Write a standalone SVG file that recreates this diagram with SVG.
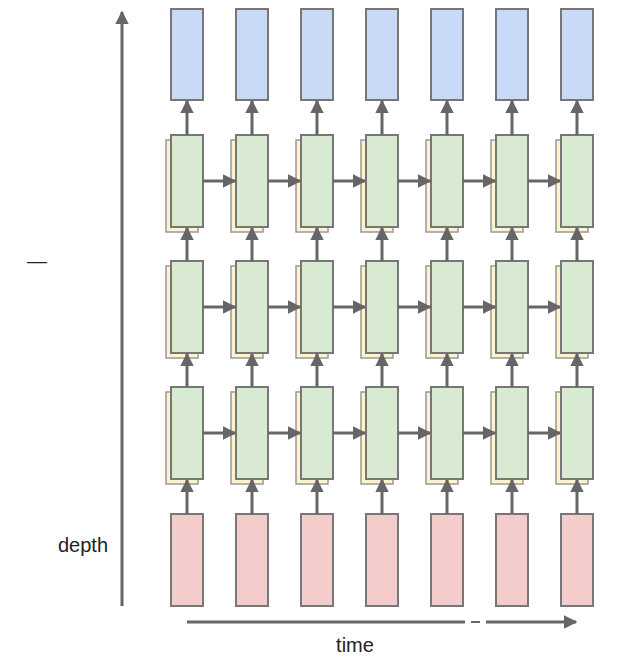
<svg xmlns="http://www.w3.org/2000/svg" width="622" height="665" viewBox="0 0 622 665">
<style>
.b{fill:#c9daf8;stroke:#777;stroke-width:2}
.r{fill:#f4cccc;stroke:#777;stroke-width:2}
.g{fill:#d9ead3;stroke:#777;stroke-width:2}
.y{fill:#fff2cc;stroke:#999;stroke-width:1.5}
.c line{stroke:#666;stroke-width:3}
text{font-family:"Liberation Sans",Arial,sans-serif;font-size:20px;fill:#222}
</style>
<defs>
<marker id="a" viewBox="0 0 10 10" refX="9" refY="5" markerWidth="4.5" markerHeight="4.5" orient="auto" markerUnits="strokeWidth"><path d="M0,0L10,5L0,10z" fill="#666"/></marker>
<g id="cell"><rect class="y" x="-5" y="5" width="32" height="92"/><rect class="g" x="0" y="0" width="32" height="92"/></g>
</defs>
<rect width="622" height="665" fill="#fff"/>
<g id="axes">
<line x1="122" y1="606" x2="122" y2="12" stroke="#666" stroke-width="3" marker-end="url(#a)"/>
<line x1="187" y1="622" x2="465" y2="622" stroke="#666" stroke-width="3"/>
<line x1="471" y1="622" x2="480" y2="622" stroke="#666" stroke-width="2"/>
<line x1="486" y1="622" x2="576" y2="622" stroke="#666" stroke-width="3" marker-end="url(#a)"/>
<text x="83" y="552" text-anchor="middle">depth</text>
<text x="355" y="652" text-anchor="middle">time</text>
<text x="37" y="268" text-anchor="middle">—</text>
</g>
<g id="nodes">
<g id="outputs">
<rect class="b" x="171" y="9" width="32" height="91"/><rect class="b" x="236" y="9" width="32" height="91"/><rect class="b" x="301" y="9" width="32" height="91"/><rect class="b" x="366" y="9" width="32" height="91"/><rect class="b" x="431" y="9" width="32" height="91"/><rect class="b" x="496" y="9" width="32" height="91"/><rect class="b" x="561" y="9" width="32" height="91"/>
</g>
<g id="inputs">
<rect class="r" x="171" y="514" width="32" height="92"/><rect class="r" x="236" y="514" width="32" height="92"/><rect class="r" x="301" y="514" width="32" height="92"/><rect class="r" x="366" y="514" width="32" height="92"/><rect class="r" x="431" y="514" width="32" height="92"/><rect class="r" x="496" y="514" width="32" height="92"/><rect class="r" x="561" y="514" width="32" height="92"/>
</g>
<g id="layer1"><use href="#cell" x="171" y="135"/><use href="#cell" x="236" y="135"/><use href="#cell" x="301" y="135"/><use href="#cell" x="366" y="135"/><use href="#cell" x="431" y="135"/><use href="#cell" x="496" y="135"/><use href="#cell" x="561" y="135"/></g>
<g id="layer2"><use href="#cell" x="171" y="261"/><use href="#cell" x="236" y="261"/><use href="#cell" x="301" y="261"/><use href="#cell" x="366" y="261"/><use href="#cell" x="431" y="261"/><use href="#cell" x="496" y="261"/><use href="#cell" x="561" y="261"/></g>
<g id="layer3"><use href="#cell" x="171" y="387"/><use href="#cell" x="236" y="387"/><use href="#cell" x="301" y="387"/><use href="#cell" x="366" y="387"/><use href="#cell" x="431" y="387"/><use href="#cell" x="496" y="387"/><use href="#cell" x="561" y="387"/></g>
</g>
<g id="connectors" class="c">
<g id="v0"><line x1="187" y1="135" x2="187" y2="101" marker-end="url(#a)"/><line x1="252" y1="135" x2="252" y2="101" marker-end="url(#a)"/><line x1="317" y1="135" x2="317" y2="101" marker-end="url(#a)"/><line x1="382" y1="135" x2="382" y2="101" marker-end="url(#a)"/><line x1="447" y1="135" x2="447" y2="101" marker-end="url(#a)"/><line x1="512" y1="135" x2="512" y2="101" marker-end="url(#a)"/><line x1="577" y1="135" x2="577" y2="101" marker-end="url(#a)"/></g>
<g id="v1"><line x1="187" y1="261" x2="187" y2="228" marker-end="url(#a)"/><line x1="252" y1="261" x2="252" y2="228" marker-end="url(#a)"/><line x1="317" y1="261" x2="317" y2="228" marker-end="url(#a)"/><line x1="382" y1="261" x2="382" y2="228" marker-end="url(#a)"/><line x1="447" y1="261" x2="447" y2="228" marker-end="url(#a)"/><line x1="512" y1="261" x2="512" y2="228" marker-end="url(#a)"/><line x1="577" y1="261" x2="577" y2="228" marker-end="url(#a)"/></g>
<g id="v2"><line x1="187" y1="387" x2="187" y2="354" marker-end="url(#a)"/><line x1="252" y1="387" x2="252" y2="354" marker-end="url(#a)"/><line x1="317" y1="387" x2="317" y2="354" marker-end="url(#a)"/><line x1="382" y1="387" x2="382" y2="354" marker-end="url(#a)"/><line x1="447" y1="387" x2="447" y2="354" marker-end="url(#a)"/><line x1="512" y1="387" x2="512" y2="354" marker-end="url(#a)"/><line x1="577" y1="387" x2="577" y2="354" marker-end="url(#a)"/></g>
<g id="v3"><line x1="187" y1="514" x2="187" y2="480" marker-end="url(#a)"/><line x1="252" y1="514" x2="252" y2="480" marker-end="url(#a)"/><line x1="317" y1="514" x2="317" y2="480" marker-end="url(#a)"/><line x1="382" y1="514" x2="382" y2="480" marker-end="url(#a)"/><line x1="447" y1="514" x2="447" y2="480" marker-end="url(#a)"/><line x1="512" y1="514" x2="512" y2="480" marker-end="url(#a)"/><line x1="577" y1="514" x2="577" y2="480" marker-end="url(#a)"/></g>
<g id="h1"><line x1="203" y1="181" x2="235" y2="181" marker-end="url(#a)"/><line x1="268" y1="181" x2="300" y2="181" marker-end="url(#a)"/><line x1="333" y1="181" x2="365" y2="181" marker-end="url(#a)"/><line x1="398" y1="181" x2="430" y2="181" marker-end="url(#a)"/><line x1="463" y1="181" x2="495" y2="181" marker-end="url(#a)"/><line x1="528" y1="181" x2="560" y2="181" marker-end="url(#a)"/></g>
<g id="h2"><line x1="203" y1="307" x2="235" y2="307" marker-end="url(#a)"/><line x1="268" y1="307" x2="300" y2="307" marker-end="url(#a)"/><line x1="333" y1="307" x2="365" y2="307" marker-end="url(#a)"/><line x1="398" y1="307" x2="430" y2="307" marker-end="url(#a)"/><line x1="463" y1="307" x2="495" y2="307" marker-end="url(#a)"/><line x1="528" y1="307" x2="560" y2="307" marker-end="url(#a)"/></g>
<g id="h3"><line x1="203" y1="433" x2="235" y2="433" marker-end="url(#a)"/><line x1="268" y1="433" x2="300" y2="433" marker-end="url(#a)"/><line x1="333" y1="433" x2="365" y2="433" marker-end="url(#a)"/><line x1="398" y1="433" x2="430" y2="433" marker-end="url(#a)"/><line x1="463" y1="433" x2="495" y2="433" marker-end="url(#a)"/><line x1="528" y1="433" x2="560" y2="433" marker-end="url(#a)"/></g>
</g>
</svg>
